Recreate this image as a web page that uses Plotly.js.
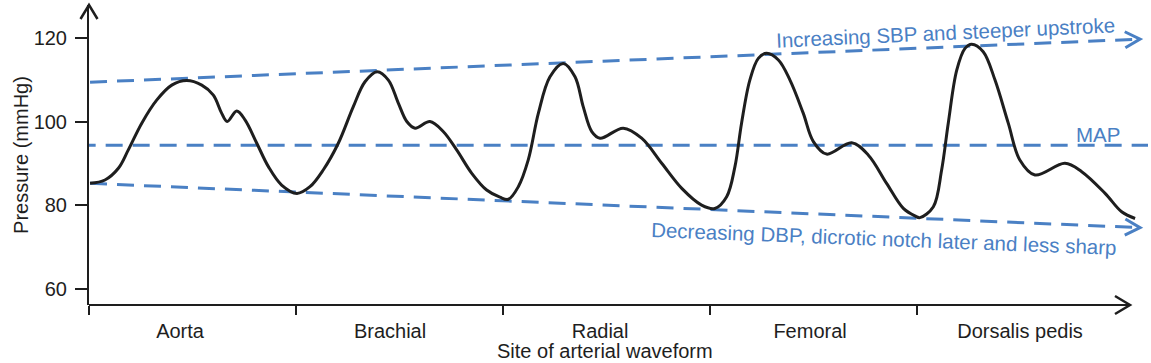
<!DOCTYPE html>
<html>
<head>
<meta charset="utf-8">
<script src="https://cdn.plot.ly/plotly-3.0.1.min.js"></script>
<style>html,body{margin:0;padding:0;background:#fff;}#chart{width:1151px;height:363px;}</style>
</head>
<body>
<div id="chart"></div>
<script>
// ---- data ----
const categories = ['Aorta', 'Brachial', 'Radial', 'Femoral', 'Dorsalis pedis'];
const yTickVals = [60, 80, 100, 120];
const siteBoundaries = [0, 1, 2, 3, 4];

// arterial pressure waveform (x in site units, y in mmHg)
const waveX = [0.005, 0.077, 0.142, 0.190, 0.255, 0.327, 0.400, 0.472, 0.545, 0.601, 0.641, 0.668, 0.714, 0.754, 0.811, 0.867, 0.931,
  1.005, 1.068, 1.132, 1.205, 1.277, 1.334, 1.393, 1.447, 1.495, 1.536, 1.576, 1.648, 1.712, 1.777, 1.850, 1.922, 1.986,
  2.027, 2.075, 2.123, 2.172, 2.228, 2.292, 2.349, 2.389, 2.430, 2.470, 2.582, 2.671, 2.768, 2.865, 2.961,
  3.025, 3.082, 3.122, 3.154, 3.194, 3.235, 3.275, 3.332, 3.388, 3.452, 3.501, 3.565, 3.686, 3.766, 3.855, 3.936, 3.992,
  4.016, 4.081, 4.121, 4.153, 4.194, 4.234, 4.266, 4.322, 4.379, 4.443, 4.499, 4.572, 4.717, 4.798, 4.911, 4.991, 5.056];
const waveY = [85.2, 86.0, 88.8, 93.2, 99.6, 105.1, 108.7, 109.8, 108.7, 106.3, 102.0, 100.0, 102.5, 100.4, 94.8, 89.2, 84.8,
  82.8, 84.4, 88.4, 94.8, 103.5, 109.5, 111.9, 109.9, 104.4, 100.0, 98.4, 100.0, 97.6, 93.2, 87.6, 83.6, 81.9,
  81.4, 84.4, 90.8, 102.0, 110.7, 113.9, 110.7, 103.5, 97.6, 96.0, 98.4, 96.0, 90.0, 84.0, 80.0,
  79.2, 82.0, 89.2, 99.6, 109.9, 115.1, 116.3, 114.7, 109.9, 102.0, 95.2, 92.2, 94.9, 92.0, 85.2, 79.2, 77.4,
  77.0, 79.6, 88.4, 99.6, 112.3, 117.5, 118.5, 116.7, 109.9, 99.6, 90.8, 87.2, 90.0, 88.0, 82.8, 78.4, 76.8];

// trend lines
const trendX = [0.005, 5.08];
const sbpTrend = [109.4, 119.7];
const dbpTrend = [85.2, 74.6];
const mapX = [-0.05, 5.3];
const mapY = [94.3, 94.3];

const sbpLabel = 'Increasing SBP and steeper upstroke';
const dbpLabel = 'Decreasing DBP, dicrotic notch later and less sharp';
const mapLabel = 'MAP';
const xTitle = 'Site of arterial waveform';
const yTitle = 'Pressure (mmHg)';

// ---- styling / layout ----
const W = 1151, H = 363;
const M = {l: 89, r: 3, t: 5, b: 58};
const plotW = W - M.l - M.r, plotH = H - M.t - M.b;
const xRange = [0, plotW / 206.9];
const yRange = [56.1, 127.87];
const sx = plotW / (xRange[1] - xRange[0]);
const sy = plotH / (yRange[1] - yRange[0]);
const BLUE = '#4a80c4';
const INK = '#1e1e1e';
const FONT = 'Liberation Sans, Arial, Helvetica, sans-serif';
const axisEnd = (1130 - M.l) / plotW;

function chevron(x0, y0, x1, y1, L, Wd) {
  let dx = (x1 - x0) * sx, dy = (y1 - y0) * sy;
  const n = Math.hypot(dx, dy); dx /= n; dy /= n;
  const px = -dy, py = dx;
  const a1 = [-L * dx + Wd * px, -L * dy + Wd * py];
  const a2 = [-L * dx - Wd * px, -L * dy - Wd * py];
  return {
    type: 'path', xref: 'x', yref: 'y', xsizemode: 'pixel', ysizemode: 'pixel',
    xanchor: x1, yanchor: y1,
    path: `M${a1[0].toFixed(2)},${a1[1].toFixed(2)} L0,0 L${a2[0].toFixed(2)},${a2[1].toFixed(2)}`,
    fillcolor: 'rgba(0,0,0,0)', line: {color: BLUE, width: 3}
  };
}

const dashStyle = {color: BLUE, width: 3, dash: '17px,10px'};

const traces = [
  {x: mapX, y: mapY, mode: 'lines', line: dashStyle, hoverinfo: 'skip', showlegend: false},
  {x: trendX, y: sbpTrend, mode: 'lines', line: dashStyle, hoverinfo: 'skip', showlegend: false},
  {x: trendX, y: dbpTrend, mode: 'lines', line: dashStyle, hoverinfo: 'skip', showlegend: false},
  {x: waveX, y: waveY, mode: 'lines', line: {color: INK, width: 3, shape: 'spline', smoothing: 1}, hoverinfo: 'skip', showlegend: false}
];

const layout = {
  width: W, height: H, margin: M,
  paper_bgcolor: '#fff', plot_bgcolor: '#fff',
  font: {family: FONT, size: 20, color: INK},
  showlegend: false,
  xaxis: {
    range: xRange, showgrid: false, zeroline: false, showline: false,
    tickmode: 'array', tickvals: categories.map((c, i) => i + 0.5 - 0.06 + i * 0.015), ticktext: categories,
    ticks: '', ticklabelstandoff: 12,
    tickfont: {size: 20, color: INK, family: FONT},
    minor: {tickmode: 'array', tickvals: siteBoundaries, ticks: 'outside', ticklen: 9, tickwidth: 2, tickcolor: INK, showgrid: false},
    fixedrange: true
  },
  yaxis: {
    range: yRange, showgrid: false, zeroline: false,
    showline: true, linewidth: 2, linecolor: INK,
    tickmode: 'array', tickvals: yTickVals,
    ticks: 'outside', ticklen: 12, tickwidth: 2, tickcolor: INK,
    ticklabelstandoff: 4,
    tickfont: {size: 20, color: INK, family: FONT},
    title: {text: yTitle, font: {size: 20, color: INK, family: FONT}, standoff: 0},
    fixedrange: true
  },
  shapes: [
    // x axis line and arrow heads
    {type: 'line', xref: 'paper', yref: 'paper', x0: 0, x1: axisEnd, y0: 0, y1: 0, line: {color: INK, width: 2}},
    {type: 'path', xref: 'paper', yref: 'paper', xsizemode: 'pixel', ysizemode: 'pixel', xanchor: axisEnd, yanchor: 0,
      path: 'M-15,9 L0,0 L-15,-9', fillcolor: 'rgba(0,0,0,0)', line: {color: INK, width: 2.5}},
    {type: 'path', xref: 'paper', yref: 'paper', xsizemode: 'pixel', ysizemode: 'pixel', xanchor: 0, yanchor: 1,
      path: 'M-8.5,-14 L0,0 L8.5,-14', fillcolor: 'rgba(0,0,0,0)', line: {color: INK, width: 2.5}},
    chevron(trendX[0], sbpTrend[0], trendX[1], sbpTrend[1], 15, 8),
    chevron(trendX[0], dbpTrend[0], trendX[1], dbpTrend[1], 15, 8)
  ],
  annotations: [
    {text: sbpLabel, xref: 'x', yref: 'y', x: (945 - M.l) / sx, y: 121.2, showarrow: false, textangle: -2.6,
      font: {size: 20.5, color: BLUE, family: FONT}},
    {text: dbpLabel, xref: 'x', yref: 'y', x: (884 - M.l) / sx, y: 72.0, showarrow: false, textangle: 2.2,
      font: {size: 20.5, color: BLUE, family: FONT}},
    {text: mapLabel, xref: 'x', yref: 'y', x: (1098 - M.l) / sx, y: 97.0, showarrow: false,
      font: {size: 20.5, color: BLUE, family: FONT}},
    {text: xTitle, xref: 'paper', yref: 'paper', x: (605 - M.l) / plotW, y: -46 / plotH, yanchor: 'middle', showarrow: false,
      font: {size: 20, color: INK, family: FONT}}
  ]
};

Plotly.newPlot('chart', traces, layout, {displayModeBar: false, staticPlot: true});
</script>
</body>
</html>
